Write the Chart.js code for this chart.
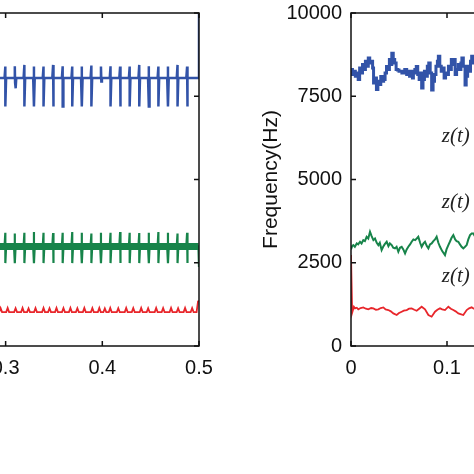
<!DOCTYPE html>
<html>
<head>
<meta charset="utf-8">
<script src="https://cdn.jsdelivr.net/npm/chart.js@4.4.1/dist/chart.umd.min.js"></script>
<style>
    html, body { margin: 0; padding: 0; width: 474px; height: 474px; overflow: hidden; background: #fff; }
    #page { position: relative; width: 474px; height: 474px; overflow: hidden; background: #fff; }
    .panel { position: absolute; top: 0; height: 474px; }
    #leftPanel { left: -300px; width: 540px; }
    #rightPanel { left: 240px; width: 640px; }
</style>
</head>
<body>
<div id="page">
    <div class="panel" id="leftPanel"><canvas id="leftChart"></canvas></div>
    <div class="panel" id="rightPanel"><canvas id="rightChart"></canvas></div>
</div>
<script>
// Ejes
const yTicks = [0, 2500, 5000, 7500, 10000];
const xTicksLeft = [0, 0.1, 0.2, 0.3, 0.4, 0.5];
const xTicksRight = [0, 0.1, 0.2, 0.3, 0.4, 0.5];
const yTitle = 'Frequency(Hz)';

// Panel izquierdo (solo se ve de 0.3 a 0.5)
const blueLeft = [
    [0.290, 8050],
    [0.2989, 8050], [0.2997, 8390], [0.2997, 7190], [0.3005, 8050],
    [0.3087, 8050], [0.3095, 8400], [0.3098, 7900], [0.3104, 7740], [0.3110, 8050],
    [0.3186, 8050], [0.3194, 8440], [0.3194, 7190], [0.3202, 8050],
    [0.3285, 8050], [0.3293, 8390], [0.3293, 7190], [0.3301, 8050],
    [0.3384, 8050], [0.3392, 8390], [0.3392, 7190], [0.3400, 8050],
    [0.3483, 8050], [0.3491, 8440], [0.3491, 7190], [0.3499, 8050],
    [0.3582, 8050], [0.3590, 8400], [0.3590, 7190], [0.3595, 7190], [0.3595, 8050], [0.3600, 8050],
    [0.3681, 8050], [0.3689, 8390], [0.3689, 7190], [0.3697, 8050],
    [0.3780, 8050], [0.3788, 8390], [0.3788, 7190], [0.3796, 8050],
    [0.3879, 8050], [0.3887, 8420], [0.3887, 7190], [0.3895, 8050],
    [0.3978, 8050], [0.3986, 8390], [0.3990, 7940], [0.3996, 8050],
    [0.4077, 8050], [0.4085, 8400], [0.4085, 7190], [0.4093, 8050],
    [0.4176, 8050], [0.4184, 8390], [0.4184, 7190], [0.4192, 8050],
    [0.4275, 8050], [0.4283, 8390], [0.4283, 7190], [0.4291, 8050],
    [0.4374, 8050], [0.4382, 8440], [0.4382, 7190], [0.4390, 8050],
    [0.4473, 8050], [0.4481, 8400], [0.4481, 7190], [0.4486, 7190], [0.4486, 8050], [0.4491, 8050],
    [0.4572, 8050], [0.4580, 8390], [0.4580, 7190], [0.4588, 8050],
    [0.4671, 8050], [0.4679, 8390], [0.4679, 7190], [0.4687, 8050],
    [0.4770, 8050], [0.4778, 8440], [0.4778, 7190], [0.4786, 8050],
    [0.4869, 8050], [0.4877, 8390], [0.4877, 7190], [0.4885, 8050],
    [0.4995, 8050], [0.5, 8050], [0.5, 10000]
];

const greenLeftBand = [[0.290, 2985], [0.4995, 2985]];

const greenLeft = [
    [0.290, 2990],
    [0.2989, 2990], [0.2997, 3400], [0.2997, 2490], [0.3005, 2990],
    [0.3087, 2990], [0.3095, 3380], [0.3095, 2490], [0.3103, 2990],
    [0.3186, 2990], [0.3194, 3400], [0.3194, 2490], [0.3202, 2990],
    [0.3285, 2990], [0.3293, 3420], [0.3293, 2490], [0.3301, 2990],
    [0.3384, 2990], [0.3392, 3400], [0.3392, 2490], [0.3400, 2990],
    [0.3483, 2990], [0.3491, 3390], [0.3491, 2490], [0.3499, 2990],
    [0.3582, 2990], [0.3590, 3400], [0.3590, 2490], [0.3598, 2990],
    [0.3681, 2990], [0.3689, 3420], [0.3689, 2490], [0.3697, 2990],
    [0.3780, 2990], [0.3788, 3400], [0.3788, 2490], [0.3796, 2990],
    [0.3879, 2990], [0.3887, 3380], [0.3887, 2490], [0.3895, 2990],
    [0.3978, 2990], [0.3986, 3400], [0.3986, 2490], [0.3994, 2990],
    [0.4077, 2990], [0.4085, 3400], [0.4085, 2490], [0.4093, 2990],
    [0.4176, 2990], [0.4184, 3420], [0.4184, 2490], [0.4192, 2990],
    [0.4275, 2990], [0.4283, 3400], [0.4283, 2490], [0.4291, 2990],
    [0.4374, 2990], [0.4382, 3390], [0.4382, 2490], [0.4390, 2990],
    [0.4473, 2990], [0.4481, 3400], [0.4481, 2490], [0.4489, 2990],
    [0.4572, 2990], [0.4580, 3420], [0.4580, 2490], [0.4588, 2990],
    [0.4671, 2990], [0.4679, 3400], [0.4679, 2490], [0.4687, 2990],
    [0.4770, 2990], [0.4778, 3380], [0.4778, 2490], [0.4786, 2990],
    [0.4869, 2990], [0.4877, 3400], [0.4877, 2490], [0.4885, 2990],
    [0.4990, 2990], [0.4995, 2900], [0.5, 2370]
];

const redLeft = [
    [0.290, 1020],
    [0.2933, 1020], [0.2948, 1140], [0.2963, 1020],
    [0.3006, 1020], [0.3021, 1145], [0.3036, 1020],
    [0.3088, 1020], [0.3103, 1135], [0.3118, 1020],
    [0.3160, 1020], [0.3175, 1145], [0.3190, 1020],
    [0.3222, 1020], [0.3237, 1130], [0.3252, 1020],
    [0.3294, 1020], [0.3309, 1140], [0.3324, 1020],
    [0.3377, 1020], [0.3392, 1145], [0.3407, 1020],
    [0.3439, 1020], [0.3454, 1135], [0.3469, 1020],
    [0.3511, 1020], [0.3526, 1145], [0.3541, 1020],
    [0.3583, 1020], [0.3598, 1140], [0.3613, 1020],
    [0.3655, 1020], [0.3670, 1145], [0.3685, 1020],
    [0.3727, 1020], [0.3742, 1135], [0.3757, 1020],
    [0.3799, 1020], [0.3814, 1145], [0.3829, 1020],
    [0.3882, 1020], [0.3897, 1140], [0.3912, 1020],
    [0.3954, 1020], [0.3969, 1145], [0.3984, 1020],
    [0.4011, 1020], [0.4026, 1130], [0.4041, 1020],
    [0.4067, 1020], [0.4082, 1145], [0.4097, 1020],
    [0.4150, 1020], [0.4165, 1135], [0.4180, 1020],
    [0.4232, 1020], [0.4247, 1145], [0.4262, 1020],
    [0.4305, 1020], [0.4320, 1140], [0.4335, 1020],
    [0.4387, 1020], [0.4402, 1145], [0.4417, 1020],
    [0.4459, 1020], [0.4474, 1135], [0.4489, 1020],
    [0.4542, 1020], [0.4557, 1145], [0.4572, 1020],
    [0.4614, 1020], [0.4629, 1140], [0.4644, 1020],
    [0.4696, 1020], [0.4711, 1145], [0.4726, 1020],
    [0.4769, 1020], [0.4784, 1135], [0.4799, 1020],
    [0.4841, 1020], [0.4856, 1145], [0.4871, 1020],
    [0.4914, 1020], [0.4929, 1140], [0.4944, 1020],
    [0.4975, 1020], [0.4990, 1340], [0.5, 1350]
];

// Panel derecho (solo se ve de 0 a ~0.13)
const blueRight = [
    [0.000, 8300], [0.0015, 8150], [0.003, 8250], [0.0045, 8100], [0.006, 8200], [0.0075, 8000],
    [0.009, 8350], [0.0105, 8200], [0.012, 8450], [0.0135, 8300], [0.015, 8550], [0.0165, 8400],
    [0.018, 8650], [0.0195, 8500], [0.021, 8550], [0.0225, 8350], [0.0235, 7900], [0.025, 8050],
    [0.0265, 7700], [0.028, 7950], [0.0295, 7850], [0.031, 8090], [0.0325, 7950], [0.034, 8000],
    [0.0355, 8200], [0.037, 8390], [0.0385, 8300], [0.040, 8600], [0.0415, 8450], [0.0425, 8790],
    [0.044, 8600], [0.0455, 8500], [0.047, 8300], [0.0485, 8290], [0.050, 8250], [0.0515, 8250],
    [0.053, 8200], [0.0545, 8200], [0.056, 8300], [0.058, 8150], [0.0595, 8250], [0.061, 8100],
    [0.0625, 8250], [0.064, 8050], [0.065, 8200], [0.0665, 8300], [0.068, 8390], [0.0695, 8150],
    [0.071, 8000], [0.0725, 8200], [0.0736, 7750], [0.075, 8000], [0.0765, 8250], [0.078, 8100],
    [0.0795, 8400], [0.081, 8500], [0.0825, 8200], [0.084, 7690], [0.0855, 7950], [0.087, 8150],
    [0.0885, 8400], [0.090, 8550], [0.091, 8700], [0.0925, 8400], [0.094, 8250], [0.0955, 8350],
    [0.097, 8050], [0.0985, 8200], [0.100, 8150], [0.1015, 8400], [0.103, 8300], [0.1045, 8600],
    [0.106, 8450], [0.1075, 8600], [0.1085, 8150], [0.110, 8300], [0.1118, 8450], [0.113, 8300],
    [0.1145, 8500], [0.1155, 8650], [0.117, 8400], [0.1188, 7840], [0.120, 8100], [0.1215, 8400],
    [0.123, 8250], [0.1245, 8550], [0.1257, 8700], [0.127, 8500], [0.129, 8600], [0.131, 8450]
];

const greenRight = [
    [0.000, 2900], [0.0012, 3000], [0.0024, 3030], [0.004, 2980], [0.006, 3080], [0.0075, 3050],
    [0.0094, 3130], [0.011, 3080], [0.0128, 3180], [0.0145, 3150], [0.0163, 3280], [0.018, 3230],
    [0.0198, 3430], [0.0215, 3300], [0.0233, 3180], [0.025, 3230], [0.0268, 3100], [0.0285, 3030],
    [0.030, 3100], [0.0319, 2880], [0.0335, 2980], [0.035, 3050], [0.0372, 3130], [0.039, 3000],
    [0.0405, 3080], [0.0424, 3030], [0.044, 2950], [0.0458, 2930], [0.0475, 2980], [0.0493, 2830],
    [0.051, 2950], [0.0528, 2980], [0.0545, 2900], [0.0563, 2780], [0.058, 2900], [0.0597, 2980],
    [0.0615, 3050], [0.0632, 3130], [0.065, 3200], [0.0668, 3180], [0.0685, 3230], [0.0701, 3280],
    [0.072, 3100], [0.0736, 2980], [0.0755, 3080], [0.0771, 3130], [0.079, 3000], [0.0806, 2930],
    [0.0823, 3050], [0.084, 3080], [0.0858, 3150], [0.0875, 3200], [0.0892, 3280], [0.091, 3100],
    [0.0927, 2980], [0.095, 2850], [0.0979, 2730], [0.0995, 2900], [0.1014, 3030], [0.103, 3130],
    [0.1048, 3250], [0.1066, 3330], [0.1085, 3200], [0.110, 3150], [0.1118, 3130], [0.1135, 3050],
    [0.1152, 2980], [0.117, 2930], [0.1188, 2980], [0.1205, 3030], [0.1222, 3200], [0.124, 3330],
    [0.1257, 3380], [0.1274, 3380], [0.129, 3300], [0.131, 3350]
];

const redRight = [
    [0.000, 2730], [0.0008, 2730], [0.0012, 1000], [0.003, 1180], [0.0042, 1130], [0.006, 1150],
    [0.0076, 1100], [0.010, 1140], [0.0128, 1160], [0.0155, 1120], [0.0181, 1100], [0.021, 1140],
    [0.0233, 1130], [0.026, 1090], [0.0285, 1100], [0.031, 1140], [0.0337, 1160], [0.036, 1100],
    [0.0389, 1080], [0.0415, 1040], [0.0441, 980], [0.0476, 930], [0.050, 990], [0.0528, 1030],
    [0.055, 1060], [0.058, 1080], [0.0605, 1120], [0.0632, 1130], [0.066, 1090], [0.0684, 1060],
    [0.071, 1120], [0.0736, 1180], [0.0771, 1100], [0.0806, 930], [0.084, 880], [0.0875, 1030],
    [0.090, 1090], [0.0927, 1130], [0.095, 1100], [0.0979, 1080], [0.1014, 1180], [0.104, 1120],
    [0.1066, 1080], [0.109, 1040], [0.1118, 980], [0.114, 960], [0.117, 930], [0.1205, 1080],
    [0.123, 1130], [0.1257, 1160], [0.128, 1120], [0.131, 1100]
];

const zLabels = [
    { text: 'z(t)', x: 0.0945, y: 6300 },
    { text: 'z(t)', x: 0.0945, y: 4300 },
    { text: 'z(t)', x: 0.0945, y: 2080 }
];

const BLUE = '#3253a8';
const GREEN = '#17844a';
const RED = '#e8262b';

Chart.defaults.font.family = '"Liberation Sans", Arial, sans-serif';
Chart.defaults.color = '#111';

function fmtX(v) {
    return v === 0 ? '0' : v.toFixed(1);
}

// Marco tipo Matlab con marcas hacia dentro
function makeFrame(xTicks, yTicks) {
    return {
        id: 'frame',
        afterDatasetsDraw(chart) {
            const { ctx, chartArea: a, scales: { x, y } } = chart;
            ctx.save();
            ctx.strokeStyle = '#111';
            ctx.lineWidth = 1.5;
            ctx.strokeRect(a.left, a.top, a.right - a.left, a.bottom - a.top);
            ctx.beginPath();
            xTicks.forEach(v => {
                const px = x.getPixelForValue(v);
                ctx.moveTo(px, a.bottom); ctx.lineTo(px, a.bottom - 5);
                ctx.moveTo(px, a.top); ctx.lineTo(px, a.top + 5);
            });
            yTicks.forEach(v => {
                const py = y.getPixelForValue(v);
                ctx.moveTo(a.left, py); ctx.lineTo(a.left + 5, py);
                ctx.moveTo(a.right, py); ctx.lineTo(a.right - 5, py);
            });
            ctx.stroke();
            ctx.restore();
        }
    };
}

const zLabelPlugin = {
    id: 'zLabels',
    afterDraw(chart) {
        const { ctx, scales: { x, y } } = chart;
        ctx.save();
        ctx.font = 'italic 21px "Liberation Serif", "DejaVu Serif", serif';
        ctx.fillStyle = '#222';
        ctx.textAlign = 'left';
        ctx.textBaseline = 'middle';
        zLabels.forEach(l => {
            ctx.fillText(l.text, x.getPixelForValue(l.x), y.getPixelForValue(l.y));
        });
        ctx.restore();
    }
};

function line(data, color, width, stepped) {
    return {
        data: data,
        borderColor: color,
        borderWidth: width,
        pointRadius: 0,
        fill: false,
        tension: 0,
        stepped: stepped || false
    };
}

function xScale(ticksArr) {
    return {
        type: 'linear',
        min: 0,
        max: 0.5,
        grid: { display: false, drawTicks: false },
        border: { display: false },
        afterBuildTicks: s => { s.ticks = ticksArr.map(v => ({ value: v })); },
        afterFit: s => { s.height = 40; },
        ticks: { padding: 10, font: { size: 20 }, color: '#111', maxRotation: 0, autoSkip: false, callback: v => fmtX(v) }
    };
}

// Panel izquierdo
new Chart(document.getElementById('leftChart').getContext('2d'), {
    type: 'line',
    data: {
        datasets: [
            line(blueLeft, BLUE, 2.5),
            line(greenLeftBand, GREEN, 7),
            line(greenLeft, GREEN, 2.2),
            line(redLeft, RED, 1.8)
        ]
    },
    options: {
        animation: false,
        responsive: true,
        maintainAspectRatio: false,
        layout: { padding: { left: 14, right: 41, top: 13, bottom: 88 } },
        plugins: { legend: { display: false }, tooltip: { enabled: false } },
        scales: {
            x: xScale(xTicksLeft),
            y: { type: 'linear', display: false, min: 0, max: 10000 }
        }
    },
    plugins: [makeFrame(xTicksLeft, yTicks)]
});

// Panel derecho
new Chart(document.getElementById('rightChart').getContext('2d'), {
    type: 'line',
    data: {
        datasets: [
            line(blueRight, BLUE, 3, true),
            line(greenRight, GREEN, 2),
            line(redRight, RED, 1.8)
        ]
    },
    options: {
        animation: false,
        responsive: true,
        maintainAspectRatio: false,
        layout: { padding: { left: 13, right: 49, top: 13, bottom: 88 } },
        plugins: { legend: { display: false }, tooltip: { enabled: false } },
        scales: {
            x: xScale(xTicksRight),
            y: {
                type: 'linear',
                min: 0,
                max: 10000,
                grid: { display: false, drawTicks: false },
                border: { display: false },
                afterBuildTicks: s => { s.ticks = yTicks.map(v => ({ value: v })); },
                afterFit: s => { s.width = 98; s.paddingTop = 0; s.paddingBottom = 0; },
                ticks: { padding: 9, font: { size: 20 }, color: '#111', callback: v => String(v) },
                title: { display: true, text: yTitle, font: { size: 21 }, color: '#111', padding: { top: 6, bottom: 4 } }
            }
        }
    },
    plugins: [makeFrame(xTicksRight, yTicks), zLabelPlugin]
});
</script>
</body>
</html>
